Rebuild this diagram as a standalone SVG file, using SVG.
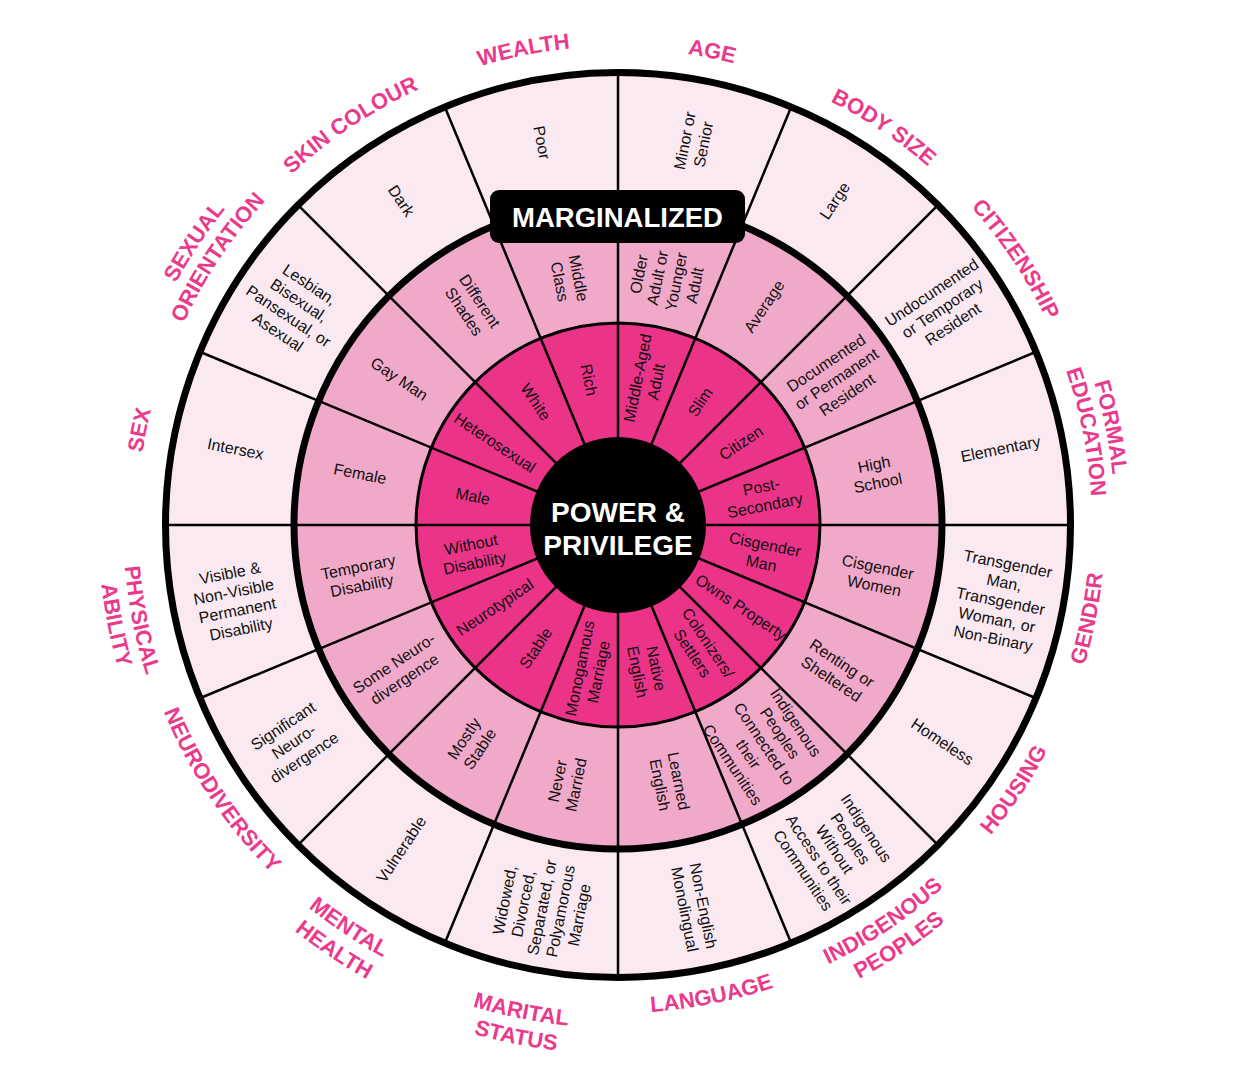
<svg xmlns="http://www.w3.org/2000/svg" width="1252" height="1084" viewBox="0 0 1252 1084">
<style>
.t{font-family:"Liberation Sans",Arial,Helvetica,sans-serif;font-size:16px;fill:#111;text-anchor:middle}
.lbl{font-family:"Liberation Sans",Arial,Helvetica,sans-serif;font-size:22px;font-weight:bold;fill:#ea3a8b;text-anchor:middle}
.div{stroke:#000;stroke-width:2.5}
.ring{fill:none;stroke:#000}
.big{font-family:"Liberation Sans",Arial,Helvetica,sans-serif;font-weight:bold;fill:#fff;text-anchor:middle}
</style>
<defs>
<path id="u474" d="M -410.50 -237 A 474 474 0 0 1 410.50 -237"/>
<path id="u475" d="M -411.37 -237.5 A 475 475 0 0 1 411.37 -237.5"/>
<path id="u476" d="M -412.23 -238 A 476 476 0 0 1 412.23 -238"/>
<path id="u479" d="M -414.83 -239.5 A 479 479 0 0 1 414.83 -239.5"/>
<path id="u481" d="M -416.56 -240.5 A 481 481 0 0 1 416.56 -240.5"/>
<path id="u497" d="M -430.42 -248.5 A 497 497 0 0 1 430.42 -248.5"/>
<path id="u504" d="M -436.48 -252 A 504 504 0 0 1 436.48 -252"/>
<path id="d485" d="M -420.02 242.5 A 485 485 0 0 0 420.02 242.5"/>
<path id="d487" d="M -421.75 243.5 A 487 487 0 0 0 421.75 243.5"/>
<path id="d488" d="M -422.62 244 A 488 488 0 0 0 422.62 244"/>
<path id="d491" d="M -425.21 245.5 A 491 491 0 0 0 425.21 245.5"/>
<path id="d492" d="M -426.08 246 A 492 492 0 0 0 426.08 246"/>
<path id="d495" d="M -428.68 247.5 A 495 495 0 0 0 428.68 247.5"/>
<path id="d503" d="M -435.61 251.5 A 503 503 0 0 0 435.61 251.5"/>
<path id="d514" d="M -445.13 257 A 514 514 0 0 0 445.13 257"/>
<path id="d519" d="M -449.47 259.5 A 519 519 0 0 0 449.47 259.5"/>
<path id="d520" d="M -450.33 260 A 520 520 0 0 0 450.33 260"/>
<path id="d529" d="M -458.13 264.5 A 529 529 0 0 0 458.13 264.5"/>
</defs>

<g id="wheel" transform="translate(618 525)">
  <circle r="452.5" fill="#fbe9f2"/>
  <circle r="324" fill="#f1a9ca"/>
  <circle r="202" fill="#eb3388"/>
</g>

<g id="connectors" transform="translate(618 525)">
  <line class="div" x1="0" y1="-452" x2="0" y2="452"/>
  <line class="div" x1="0" y1="-452" x2="0" y2="452" transform="rotate(22.5)"/>
  <line class="div" x1="0" y1="-452" x2="0" y2="452" transform="rotate(45)"/>
  <line class="div" x1="0" y1="-452" x2="0" y2="452" transform="rotate(67.5)"/>
  <line class="div" x1="0" y1="-452" x2="0" y2="452" transform="rotate(90)"/>
  <line class="div" x1="0" y1="-452" x2="0" y2="452" transform="rotate(112.5)"/>
  <line class="div" x1="0" y1="-452" x2="0" y2="452" transform="rotate(135)"/>
  <line class="div" x1="0" y1="-452" x2="0" y2="452" transform="rotate(157.5)"/>
  <circle class="ring" r="202" stroke-width="3"/>
  <circle class="ring" r="324" stroke-width="7"/>
  <circle class="ring" r="452.5" stroke-width="7"/>
</g>

<g id="center">
  <circle cx="618" cy="525" r="88" fill="#000"/>
  <text class="big" x="618" y="522" font-size="28">POWER &amp;</text>
  <text class="big" x="618" y="555" font-size="28">PRIVILEGE</text>
</g>

<g id="seg-age">
  <text class="t" transform="translate(618 525) rotate(11.25) translate(0 -390) rotate(-90)"><tspan x="0" y="-4">Minor or</tspan><tspan x="0" y="15">Senior</tspan></text>
  <text class="t" transform="translate(618 525) rotate(11.25) translate(0 -250) rotate(-90)"><tspan x="0" y="-23">Older</tspan><tspan x="0" y="-4">Adult or</tspan><tspan x="0" y="15">Younger</tspan><tspan x="0" y="34">Adult</tspan></text>
  <text class="t" transform="translate(618 525) rotate(11.25) translate(0 -148) rotate(-90)"><tspan x="0" y="-4">Middle-Aged</tspan><tspan x="0" y="15">Adult</tspan></text>
  <g transform="translate(618 525) rotate(11.25)"><text class="lbl"><textPath href="#u476" startOffset="50%">AGE</textPath></text></g>
</g>

<g id="seg-body-size">
  <text class="t" transform="translate(618 525) rotate(33.75) translate(0 -390) rotate(-90)"><tspan x="0" y="5.5">Large</tspan></text>
  <text class="t" transform="translate(618 525) rotate(33.75) translate(0 -263) rotate(-90)"><tspan x="0" y="5.5">Average</tspan></text>
  <text class="t" transform="translate(618 525) rotate(33.75) translate(0 -148) rotate(-90)"><tspan x="0" y="5.5">Slim</tspan></text>
  <g transform="translate(618 525) rotate(33.75)"><text class="lbl"><textPath href="#u474" startOffset="50%">BODY SIZE</textPath></text></g>
</g>

<g id="seg-citizenship">
  <text class="t" transform="translate(618 525) rotate(56.25) translate(0 -390) rotate(-90)"><tspan x="0" y="-13.5">Undocumented</tspan><tspan x="0" y="5.5">or Temporary</tspan><tspan x="0" y="24.5">Resident</tspan></text>
  <text class="t" transform="translate(618 525) rotate(56.25) translate(0 -263) rotate(-90)"><tspan x="0" y="-13.5">Documented</tspan><tspan x="0" y="5.5">or Permanent</tspan><tspan x="0" y="24.5">Resident</tspan></text>
  <text class="t" transform="translate(618 525) rotate(56.25) translate(0 -148) rotate(-90)"><tspan x="0" y="5.5">Citizen</tspan></text>
  <g transform="translate(618 525) rotate(56.25)"><text class="lbl"><textPath href="#u475" startOffset="50%">CITIZENSHIP</textPath></text></g>
</g>

<g id="seg-formal-education">
  <text class="t" transform="translate(618 525) rotate(78.75) translate(0 -390) rotate(-90)"><tspan x="0" y="5.5">Elementary</tspan></text>
  <text class="t" transform="translate(618 525) rotate(78.75) translate(0 -263) rotate(-90)"><tspan x="0" y="-4">High</tspan><tspan x="0" y="15">School</tspan></text>
  <text class="t" transform="translate(618 525) rotate(78.75) translate(0 -148) rotate(-90)"><tspan x="0" y="-4">Post-</tspan><tspan x="0" y="15">Secondary</tspan></text>
  <g transform="translate(618 525) rotate(78.75)"><text class="lbl"><textPath href="#u497" startOffset="50%">FORMAL</textPath></text><text class="lbl"><textPath href="#u474" startOffset="50%">EDUCATION</textPath></text></g>
</g>

<g id="seg-gender">
  <text class="t" transform="translate(618 525) rotate(101.25) translate(0 -390) rotate(-90)"><tspan x="0" y="-32.5">Transgender</tspan><tspan x="0" y="-13.5">Man,</tspan><tspan x="0" y="5.5">Transgender</tspan><tspan x="0" y="24.5">Woman, or</tspan><tspan x="0" y="43.5">Non-Binary</tspan></text>
  <text class="t" transform="translate(618 525) rotate(101.25) translate(0 -263) rotate(-90)"><tspan x="0" y="-4">Cisgender</tspan><tspan x="0" y="15">Women</tspan></text>
  <text class="t" transform="translate(618 525) rotate(101.25) translate(0 -148) rotate(-90)"><tspan x="0" y="-4">Cisgender</tspan><tspan x="0" y="15">Man</tspan></text>
  <g transform="translate(618 525) rotate(-78.75)"><text class="lbl"><textPath href="#d487" startOffset="50%">GENDER</textPath></text></g>
</g>

<g id="seg-housing">
  <text class="t" transform="translate(618 525) rotate(123.75) translate(0 -390) rotate(-90)"><tspan x="0" y="5.5">Homeless</tspan></text>
  <text class="t" transform="translate(618 525) rotate(123.75) translate(0 -263) rotate(-90)"><tspan x="0" y="-4">Renting or</tspan><tspan x="0" y="15">Sheltered</tspan></text>
  <text class="t" transform="translate(618 525) rotate(123.75) translate(0 -148) rotate(-90)"><tspan x="0" y="5.5">Owns Property</tspan></text>
  <g transform="translate(618 525) rotate(-56.25)"><text class="lbl"><textPath href="#d485" startOffset="50%">HOUSING</textPath></text></g>
</g>

<g id="seg-indigenous-peoples">
  <text class="t" transform="translate(618 525) rotate(146.25) translate(0 -390) rotate(-90)"><tspan x="0" y="-32.5">Indigenous</tspan><tspan x="0" y="-13.5">Peoples</tspan><tspan x="0" y="5.5">Without</tspan><tspan x="0" y="24.5">Access to their</tspan><tspan x="0" y="43.5">Communities</tspan></text>
  <text class="t" transform="translate(618 525) rotate(146.25) translate(0 -263) rotate(-90)"><tspan x="0" y="-32.5">Indigenous</tspan><tspan x="0" y="-13.5">Peoples</tspan><tspan x="0" y="5.5">Connected to</tspan><tspan x="0" y="24.5">their</tspan><tspan x="0" y="43.5">Communities</tspan></text>
  <text class="t" transform="translate(618 525) rotate(146.25) translate(0 -148) rotate(-90)"><tspan x="0" y="-4">Colonizers/</tspan><tspan x="0" y="15">Settlers</tspan></text>
  <g transform="translate(618 525) rotate(-33.75)"><text class="lbl"><textPath href="#d487" startOffset="50%">INDIGENOUS</textPath></text><text class="lbl"><textPath href="#d514" startOffset="50%">PEOPLES</textPath></text></g>
</g>

<g id="seg-language">
  <text class="t" transform="translate(618 525) rotate(168.75) translate(0 -390) rotate(-90)"><tspan x="0" y="-4">Non-English</tspan><tspan x="0" y="15">Monolingual</tspan></text>
  <text class="t" transform="translate(618 525) rotate(168.75) translate(0 -263) rotate(-90)"><tspan x="0" y="-4">Learned</tspan><tspan x="0" y="15">English</tspan></text>
  <text class="t" transform="translate(618 525) rotate(168.75) translate(0 -148) rotate(-90)"><tspan x="0" y="-4">Native</tspan><tspan x="0" y="15">English</tspan></text>
  <g transform="translate(618 525) rotate(-11.25)"><text class="lbl"><textPath href="#d488" startOffset="50%">LANGUAGE</textPath></text></g>
</g>

<g id="seg-marital-status">
  <text class="t" transform="translate(618 525) rotate(191.25) translate(0 -390) rotate(90)"><tspan x="0" y="-32.5">Widowed,</tspan><tspan x="0" y="-13.5">Divorced,</tspan><tspan x="0" y="5.5">Separated, or</tspan><tspan x="0" y="24.5">Polyamorous</tspan><tspan x="0" y="43.5">Marriage</tspan></text>
  <text class="t" transform="translate(618 525) rotate(191.25) translate(0 -263) rotate(90)"><tspan x="0" y="-4">Never</tspan><tspan x="0" y="15">Married</tspan></text>
  <text class="t" transform="translate(618 525) rotate(191.25) translate(0 -148) rotate(90)"><tspan x="0" y="-4">Monogamous</tspan><tspan x="0" y="15">Marriage</tspan></text>
  <g transform="translate(618 525) rotate(11.25)"><text class="lbl"><textPath href="#d503" startOffset="50%">MARITAL</textPath></text><text class="lbl"><textPath href="#d529" startOffset="50%">STATUS</textPath></text></g>
</g>

<g id="seg-mental-health">
  <text class="t" transform="translate(618 525) rotate(213.75) translate(0 -390) rotate(90)"><tspan x="0" y="5.5">Vulnerable</tspan></text>
  <text class="t" transform="translate(618 525) rotate(213.75) translate(0 -263) rotate(90)"><tspan x="0" y="-4">Mostly</tspan><tspan x="0" y="15">Stable</tspan></text>
  <text class="t" transform="translate(618 525) rotate(213.75) translate(0 -148) rotate(90)"><tspan x="0" y="5.5">Stable</tspan></text>
  <g transform="translate(618 525) rotate(33.75)"><text class="lbl"><textPath href="#d492" startOffset="50%">MENTAL</textPath></text><text class="lbl"><textPath href="#d519" startOffset="50%">HEALTH</textPath></text></g>
</g>

<g id="seg-neurodiversity">
  <text class="t" transform="translate(618 525) rotate(236.25) translate(0 -390) rotate(90)"><tspan x="0" y="-13.5">Significant</tspan><tspan x="0" y="5.5">Neuro-</tspan><tspan x="0" y="24.5">divergence</tspan></text>
  <text class="t" transform="translate(618 525) rotate(236.25) translate(0 -263) rotate(90)"><tspan x="0" y="-4">Some Neuro-</tspan><tspan x="0" y="15">divergence</tspan></text>
  <text class="t" transform="translate(618 525) rotate(236.25) translate(0 -148) rotate(90)"><tspan x="0" y="5.5">Neurotypical</tspan></text>
  <g transform="translate(618 525) rotate(56.25)"><text class="lbl"><textPath href="#d491" startOffset="50%">NEURODIVERSITY</textPath></text></g>
</g>

<g id="seg-physical-ability">
  <text class="t" transform="translate(618 525) rotate(258.75) translate(0 -390) rotate(90)"><tspan x="0" y="-23">Visible &amp;</tspan><tspan x="0" y="-4">Non-Visible</tspan><tspan x="0" y="15">Permanent</tspan><tspan x="0" y="34">Disability</tspan></text>
  <text class="t" transform="translate(618 525) rotate(258.75) translate(0 -263) rotate(90)"><tspan x="0" y="-4">Temporary</tspan><tspan x="0" y="15">Disability</tspan></text>
  <text class="t" transform="translate(618 525) rotate(258.75) translate(0 -148) rotate(90)"><tspan x="0" y="-4">Without</tspan><tspan x="0" y="15">Disability</tspan></text>
  <g transform="translate(618 525) rotate(78.75)"><text class="lbl"><textPath href="#d495" startOffset="50%">PHYSICAL</textPath></text><text class="lbl"><textPath href="#d520" startOffset="50%">ABILITY</textPath></text></g>
</g>

<g id="seg-sex">
  <text class="t" transform="translate(618 525) rotate(281.25) translate(0 -390) rotate(90)"><tspan x="0" y="5.5">Intersex</tspan></text>
  <text class="t" transform="translate(618 525) rotate(281.25) translate(0 -263) rotate(90)"><tspan x="0" y="5.5">Female</tspan></text>
  <text class="t" transform="translate(618 525) rotate(281.25) translate(0 -148) rotate(90)"><tspan x="0" y="5.5">Male</tspan></text>
  <g transform="translate(618 525) rotate(281.25)"><text class="lbl"><textPath href="#u481" startOffset="50%">SEX</textPath></text></g>
</g>

<g id="seg-sexual-orientation">
  <text class="t" transform="translate(618 525) rotate(303.75) translate(0 -390) rotate(90)"><tspan x="0" y="-23">Lesbian,</tspan><tspan x="0" y="-4">Bisexual,</tspan><tspan x="0" y="15">Pansexual, or</tspan><tspan x="0" y="34">Asexual</tspan></text>
  <text class="t" transform="translate(618 525) rotate(303.75) translate(0 -263) rotate(90)"><tspan x="0" y="5.5">Gay Man</tspan></text>
  <text class="t" transform="translate(618 525) rotate(303.75) translate(0 -148) rotate(90)"><tspan x="0" y="5.5">Heterosexual</tspan></text>
  <g transform="translate(618 525) rotate(303.75)"><text class="lbl"><textPath href="#u504" startOffset="50%">SEXUAL</textPath></text><text class="lbl"><textPath href="#u479" startOffset="50%">ORIENTATION</textPath></text></g>
</g>

<g id="seg-skin-colour">
  <text class="t" transform="translate(618 525) rotate(326.25) translate(0 -390) rotate(90)"><tspan x="0" y="5.5">Dark</tspan></text>
  <text class="t" transform="translate(618 525) rotate(326.25) translate(0 -263) rotate(90)"><tspan x="0" y="-4">Different</tspan><tspan x="0" y="15">Shades</tspan></text>
  <text class="t" transform="translate(618 525) rotate(326.25) translate(0 -148) rotate(90)"><tspan x="0" y="5.5">White</tspan></text>
  <g transform="translate(618 525) rotate(326.25)"><text class="lbl"><textPath href="#u479" startOffset="50%">SKIN COLOUR</textPath></text></g>
</g>

<g id="seg-wealth">
  <text class="t" transform="translate(618 525) rotate(348.75) translate(0 -390) rotate(90)"><tspan x="0" y="5.5">Poor</tspan></text>
  <text class="t" transform="translate(618 525) rotate(348.75) translate(0 -250) rotate(90)"><tspan x="0" y="-4">Middle</tspan><tspan x="0" y="15">Class</tspan></text>
  <text class="t" transform="translate(618 525) rotate(348.75) translate(0 -148) rotate(90)"><tspan x="0" y="5.5">Rich</tspan></text>
  <g transform="translate(618 525) rotate(348.75)"><text class="lbl"><textPath href="#u479" startOffset="50%">WEALTH</textPath></text></g>
</g>

<g id="marginalized">
  <rect x="490" y="190" width="255" height="53" rx="9" fill="#000"/>
  <text class="big" x="617.5" y="227" font-size="27.5">MARGINALIZED</text>
</g>
</svg>
